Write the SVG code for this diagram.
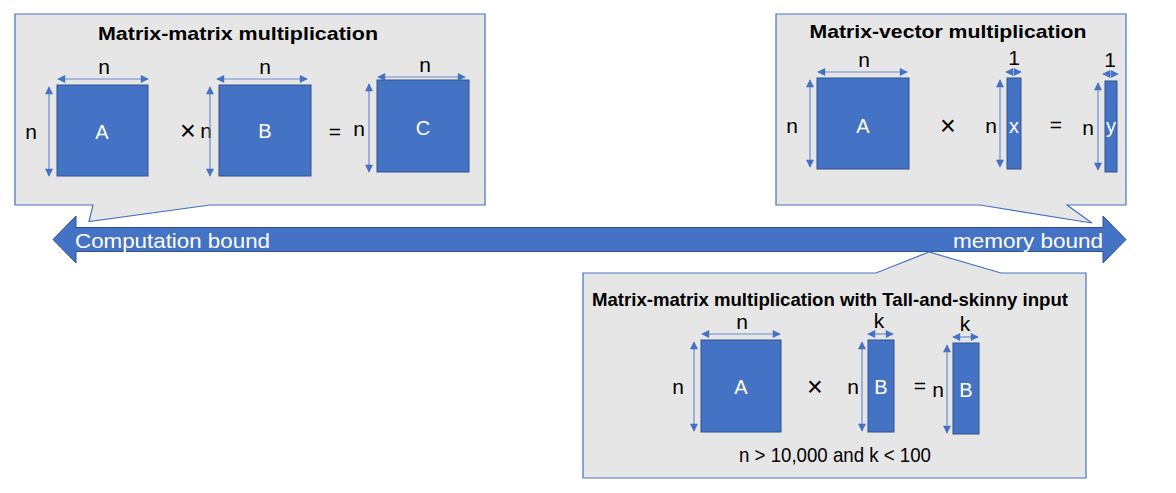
<svg xmlns="http://www.w3.org/2000/svg" width="1176" height="493" viewBox="0 0 1176 493">
<defs>
<marker id="ah" viewBox="0 0 10 10" refX="9" refY="5" markerWidth="9" markerHeight="8" markerUnits="userSpaceOnUse" orient="auto-start-reverse">
<path d="M0,0 L10,5 L0,10 z" fill="#4472C4"/>
</marker>
<style>
.box{fill:#E7E6E6;stroke:#4472C4;stroke-width:1.2}
.mat{fill:#4472C4;stroke:#2F528F;stroke-width:1}
.dim{stroke:#6A8CD0;stroke-width:1.2;fill:none;marker-start:url(#ah);marker-end:url(#ah)}
.t{font-family:"Liberation Sans",Arial,sans-serif;font-size:21px;fill:#000;text-anchor:middle}
.x{font-family:"Liberation Sans",Arial,sans-serif;font-size:27px;fill:#000;text-anchor:middle}
.w{font-family:"Liberation Sans",Arial,sans-serif;font-size:20px;fill:#fff;text-anchor:middle}
.h{font-family:"Liberation Sans",Arial,sans-serif;font-size:19px;font-weight:bold;fill:#000;text-anchor:middle}
.big{font-family:"Liberation Sans",Arial,sans-serif;font-size:21px;fill:#fff}
</style>
</defs>
<g id="connectors">
<path id="spectrum" d="M53,239.5 L76,216 L76,227.5 L1103,227.5 L1103,216 L1126,239.5 L1103,263 L1103,251.5 L76,251.5 L76,263 Z" fill="#4472C4" stroke="#2F528F" stroke-width="1"/>
<text class="big" x="75" y="248" textLength="195" lengthAdjust="spacingAndGlyphs">Computation bound</text>
<text class="big" x="953" y="248" textLength="150" lengthAdjust="spacingAndGlyphs">memory bound</text>
</g>
<g id="mm">
<path class="box" d="M15,14 L485,14 L485,205 L210,205 L89,221.5 L93,205 L15,205 Z"/>
<text class="h" x="238" y="40" textLength="280" lengthAdjust="spacingAndGlyphs">Matrix-matrix multiplication</text>
<rect class="mat" x="57" y="85" width="91" height="91"/>
<text class="w" x="102" y="139">A</text>
<line class="dim" x1="58" y1="79" x2="148" y2="79"/>
<text class="t" x="104" y="74">n</text>
<line class="dim" x1="49" y1="87" x2="49" y2="176"/>
<text class="t" x="31" y="139">n</text>
<text class="x" x="188" y="140">×</text>
<text class="t" x="206" y="138">n</text>
<rect class="mat" x="219" y="85" width="92" height="91"/>
<text class="w" x="265" y="138">B</text>
<line class="dim" x1="217" y1="79" x2="307" y2="79"/>
<text class="t" x="265" y="74">n</text>
<line class="dim" x1="210" y1="87" x2="210" y2="176"/>
<text class="t" x="335" y="139">=</text>
<rect class="mat" x="377" y="80" width="92" height="92"/>
<text class="w" x="423" y="135">C</text>
<line class="dim" x1="378" y1="77" x2="465" y2="77"/>
<text class="t" x="425" y="72">n</text>
<line class="dim" x1="369" y1="84" x2="369" y2="172"/>
<text class="t" x="359" y="136">n</text>
</g>
<g id="mv">
<path class="box" d="M776,14 L1126,14 L1126,205 L1067,205 L1092,223 L980,205 L776,205 Z"/>
<text class="h" x="948" y="38" textLength="277" lengthAdjust="spacingAndGlyphs">Matrix-vector multiplication</text>
<rect class="mat" x="817" y="78" width="92" height="91"/>
<text class="w" x="863" y="133">A</text>
<line class="dim" x1="818" y1="72" x2="907" y2="72"/>
<text class="t" x="864" y="67">n</text>
<line class="dim" x1="810" y1="80" x2="810" y2="167"/>
<text class="t" x="792" y="133">n</text>
<text class="x" x="948" y="135">×</text>
<rect class="mat" x="1007" y="78" width="14" height="91"/>
<text class="w" x="1014" y="133">x</text>
<line class="dim" x1="1006" y1="72" x2="1021" y2="72"/>
<text class="t" x="1014" y="65">1</text>
<line class="dim" x1="1000" y1="80" x2="1000" y2="167"/>
<text class="t" x="991" y="133">n</text>
<text class="t" x="1056" y="132">=</text>
<rect class="mat" x="1105" y="81" width="12" height="91"/>
<text class="w" x="1111" y="133">y</text>
<line class="dim" x1="1103" y1="74" x2="1118" y2="74"/>
<text class="t" x="1110" y="67">1</text>
<line class="dim" x1="1098" y1="83" x2="1098" y2="170"/>
<text class="t" x="1088" y="135">n</text>
</g>
<g id="mmts">
<path class="box" d="M583,273 L876,273 L929,252 L1001,273 L1086,273 L1086,478 L583,478 Z"/>
<text class="h" x="830" y="306" textLength="476" lengthAdjust="spacingAndGlyphs">Matrix-matrix multiplication with Tall-and-skinny input</text>
<rect class="mat" x="701" y="340" width="80" height="92"/>
<text class="w" x="741" y="394">A</text>
<line class="dim" x1="702" y1="334" x2="780" y2="334"/>
<text class="t" x="742" y="329">n</text>
<line class="dim" x1="694" y1="342" x2="694" y2="431"/>
<text class="t" x="678" y="394">n</text>
<text class="x" x="815" y="396">×</text>
<rect class="mat" x="868" y="340" width="26" height="92"/>
<text class="w" x="881" y="394">B</text>
<line class="dim" x1="868" y1="334" x2="893" y2="334"/>
<text class="t" x="879" y="328">k</text>
<line class="dim" x1="862" y1="342" x2="862" y2="431"/>
<text class="t" x="853" y="394">n</text>
<text class="t" x="920" y="393">=</text>
<text class="t" x="938" y="397">n</text>
<rect class="mat" x="953" y="343" width="26" height="91"/>
<text class="w" x="966" y="397">B</text>
<line class="dim" x1="953" y1="337" x2="978" y2="337"/>
<text class="t" x="965" y="331">k</text>
<line class="dim" x1="947" y1="345" x2="947" y2="433"/>
<text class="t" x="835" y="462" textLength="192" lengthAdjust="spacingAndGlyphs">n &gt; 10,000 and k &lt; 100</text>
</g>
</svg>
